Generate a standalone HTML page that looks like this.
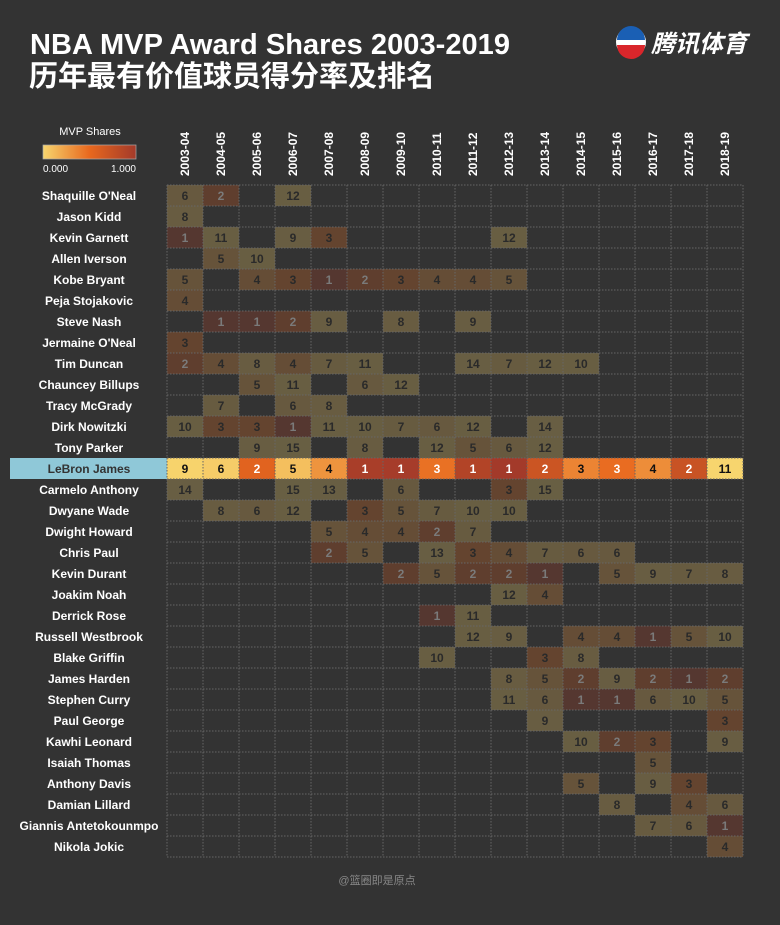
<!DOCTYPE html>
<html><head><meta charset="utf-8">
<style>
html,body{margin:0;padding:0;background:#333333;}
body{width:780px;height:920px;overflow:hidden;font-family:"Liberation Sans","Noto Sans CJK SC",sans-serif;}
svg text{font-family:"Liberation Sans","Noto Sans CJK SC",sans-serif;}
</style></head>
<body>
<svg id="chart" width="780" height="920" xmlns="http://www.w3.org/2000/svg">
<defs>
<linearGradient id="grad" x1="0" x2="1" y1="0" y2="0">
<stop offset="0" stop-color="#f7d56e"/><stop offset="0.5" stop-color="#e8681e"/><stop offset="1" stop-color="#a33a2a"/>
</linearGradient>
</defs>
<rect width="780" height="920" fill="#333333"/>
<text x="30" y="54" fill="#fff" font-size="29" font-weight="bold" textLength="480">NBA MVP Award Shares 2003-2019</text>
<text x="29" y="86" fill="#fff" font-size="29" font-weight="bold">历年最有价值球员得分率及排名</text>
<g>
<circle cx="631" cy="42" r="15" fill="#fff"/>
<path d="M617,40 A14,14 0 0 1 645,40 Z" fill="#1a5fb4"/>
<path d="M617,45 A14,14 0 0 0 645,45 Z" fill="#d9262b"/>
<text x="651" y="52" fill="#fff" font-size="24" font-style="italic" font-weight="bold">腾讯体育</text>
</g>
<g>
<text x="90" y="135" fill="#fff" font-size="11" text-anchor="middle">MVP Shares</text>
<rect x="43" y="145" width="93" height="14" fill="url(#grad)" stroke="#aaa" stroke-width="0.7"/>
<text x="43" y="172" fill="#fff" font-size="10">0.000</text>
<text x="136" y="172" fill="#fff" font-size="10" text-anchor="end">1.000</text>
</g>
<g id="grid"></g>
<text x="377" y="884" fill="#888" font-size="11" text-anchor="middle">@篮圈即是原点</text>
</svg>
<script>
const seasons = ["2003-04","2004-05","2005-06","2006-07","2007-08","2008-09","2009-10","2010-11","2011-12","2012-13","2013-14","2014-15","2015-16","2016-17","2017-18","2018-19"];
const players = ["Shaquille O'Neal","Jason Kidd","Kevin Garnett","Allen Iverson","Kobe Bryant","Peja Stojakovic","Steve Nash","Jermaine O'Neal","Tim Duncan","Chauncey Billups","Tracy McGrady","Dirk Nowitzki","Tony Parker","LeBron James","Carmelo Anthony","Dwyane Wade","Dwight Howard","Chris Paul","Kevin Durant","Joakim Noah","Derrick Rose","Russell Westbrook","Blake Griffin","James Harden","Stephen Curry","Paul George","Kawhi Leonard","Isaiah Thomas","Anthony Davis","Damian Lillard","Giannis Antetokounmpo","Nikola Jokic"];
// ranks per player: [seasonIndex, rank]
const ranks = [
[[0,6],[1,2],[3,12]],
[[0,8]],
[[0,1],[1,11],[3,9],[4,3],[9,12]],
[[1,5],[2,10]],
[[0,5],[2,4],[3,3],[4,1],[5,2],[6,3],[7,4],[8,4],[9,5]],
[[0,4]],
[[1,1],[2,1],[3,2],[4,9],[6,8],[8,9]],
[[0,3]],
[[0,2],[1,4],[2,8],[3,4],[4,7],[5,11],[8,14],[9,7],[10,12],[11,10]],
[[2,5],[3,11],[5,6],[6,12]],
[[1,7],[3,6],[4,8]],
[[0,10],[1,3],[2,3],[3,1],[4,11],[5,10],[6,7],[7,6],[8,12],[10,14]],
[[2,9],[3,15],[5,8],[7,12],[8,5],[9,6],[10,12]],
[[0,9],[1,6],[2,2],[3,5],[4,4],[5,1],[6,1],[7,3],[8,1],[9,1],[10,2],[11,3],[12,3],[13,4],[14,2],[15,11]],
[[0,14],[3,15],[4,13],[6,6],[9,3],[10,15]],
[[1,8],[2,6],[3,12],[5,3],[6,5],[7,7],[8,10],[9,10]],
[[4,5],[5,4],[6,4],[7,2],[8,7]],
[[4,2],[5,5],[7,13],[8,3],[9,4],[10,7],[11,6],[12,6]],
[[6,2],[7,5],[8,2],[9,2],[10,1],[12,5],[13,9],[14,7],[15,8]],
[[9,12],[10,4]],
[[7,1],[8,11]],
[[8,12],[9,9],[11,4],[12,4],[13,1],[14,5],[15,10]],
[[7,10],[10,3],[11,8]],
[[9,8],[10,5],[11,2],[12,9],[13,2],[14,1],[15,2]],
[[9,11],[10,6],[11,1],[12,1],[13,6],[14,10],[15,5]],
[[10,9],[15,3]],
[[11,10],[12,2],[13,3],[15,9]],
[[13,5]],
[[11,5],[13,9],[14,3]],
[[12,8],[14,4],[15,6]],
[[13,7],[14,6],[15,1]],
[[15,4]]
];
// estimated LeBron shares per season
const lebronShares = [0.01,0.04,0.55,0.10,0.30,0.96,0.98,0.46,0.89,0.998,0.71,0.37,0.48,0.33,0.73,0.001];
// typical share by rank (index = rank)
const rankShare = [0,0.9,0.62,0.45,0.3,0.2,0.1,0.06,0.04,0.03,0.02,0.01,0.01,0.005,0.005,0.003];
const highlight = "LeBron James";

const X0=167, CW=36, Y0=185, RH=21;
const xs = i => X0 + i*CW;
const ys = j => Y0 + j*RH;
function lerp(a,b,t){return a+(b-a)*t;}
function colorAt(s){
  const c0=[247,213,110],c1=[232,104,30],c2=[163,58,42];
  let a,b,t; if(s<0.5){a=c0;b=c1;t=s/0.5;}else{a=c1;b=c2;t=(s-0.5)/0.5;}
  return [0,1,2].map(k=>lerp(a[k],b[k],t));
}
function rgb(c){return "rgb("+c.map(v=>Math.round(v)).join(",")+")";}
function dim(c){return c.map(v=>v*0.27+51*0.73);}
const NS="http://www.w3.org/2000/svg";
const g=document.getElementById('grid');
function el(tag,attrs){const e=document.createElementNS(NS,tag);for(const k in attrs)e.setAttribute(k,attrs[k]);g.appendChild(e);return e;}

seasons.forEach((s,i)=>{
  const t=el('text',{x:0,y:0,fill:'#fff','font-size':12,'font-weight':'bold','text-anchor':'start',transform:`translate(${xs(i)+CW/2+4},176) rotate(-90)`});
  
  
  t.textContent=s;
});
players.forEach((p,j)=>{
  const isH = p===highlight;
  if(isH){
    const r=el('rect',{x:10,y:ys(j),width:X0-10,height:RH,fill:'#8fc8d8'});
    
    
  }
  const t=el('text',{x:89,y:ys(j)+15,fill:isH?'#333':'#fff','font-size':12,'font-weight':'bold','text-anchor':'middle'});
  
  
  t.textContent=p;
  ranks[j].forEach(([i,r])=>{
    const share = isH ? lebronShares[i] : (rankShare[r]||0.003);
    const base = colorAt(share);
    const fillC = isH ? base : dim(base);
    const c=el('rect',{x:xs(i),y:ys(j),width:CW,height:RH,fill:rgb(fillC)});
    
    
    let tc;
    if(isH) tc = share>0.42 ? '#fff' : '#111';
    else tc = share>0.5 ? '#7a7a7a' : '#2a2a2a';
    const tx=el('text',{x:xs(i)+CW/2,y:ys(j)+15,fill:tc,'font-size':12,'font-weight':'bold','text-anchor':'middle'});
    
    
    tx.textContent=r;
  });
});
for(let i=0;i<=seasons.length;i++){
  const l=el('line',{x1:xs(i),x2:xs(i),y1:Y0,y2:ys(players.length),stroke:'#666','stroke-width':1,'stroke-dasharray':'1.5,1.5'});
  
  
}
for(let j=0;j<=players.length;j++){
  const l=el('line',{x1:X0,x2:xs(seasons.length),y1:ys(j),y2:ys(j),stroke:'#666','stroke-width':1,'stroke-dasharray':'1.5,1.5'});
  
  
}
</script>
</body></html>
